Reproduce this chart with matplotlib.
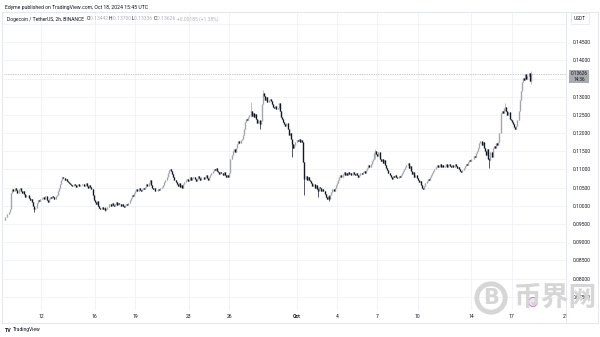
import numpy as np
import pandas as pd
import matplotlib
matplotlib.use("Agg")
import matplotlib.pyplot as plt
import matplotlib.dates as mdates
from matplotlib.patches import Ellipse

plt.rcParams['font.family'] = ['Roboto', 'DejaVu Sans']

# DOGE/USDT 2h closes, Binance, one row per day
first_open = 0.0960
closes = [
    0.0962, 0.0970, 0.0968, 0.0978, 0.0984, 0.0990, 0.1035, 0.1046, 0.1040,  # Sep 9 (from 06:00)
    0.1040, 0.1048, 0.1043, 0.1035, 0.1045, 0.1050, 0.1042, 0.1036, 0.1040, 0.1032, 0.1025, 0.1030,  # Sep 10
    0.1030, 0.1022, 0.1015, 0.1020, 0.1010, 0.1000, 0.0990, 0.0995, 0.1008, 0.1015, 0.1012, 0.1018,  # Sep 11
    0.1018, 0.1022, 0.1025, 0.1020, 0.1027, 0.1015, 0.1010, 0.1018, 0.1025, 0.1022, 0.1028, 0.1024,  # Sep 12
    0.1020, 0.1026, 0.1030, 0.1040, 0.1048, 0.1060, 0.1072, 0.1080, 0.1076, 0.1070, 0.1074, 0.1068,  # Sep 13
    0.1066, 0.1062, 0.1060, 0.1058, 0.1055, 0.1060, 0.1057, 0.1052, 0.1056, 0.1060, 0.1055, 0.1058,  # Sep 14
    0.1056, 0.1060, 0.1054, 0.1058, 0.1062, 0.1055, 0.1050, 0.1058, 0.1052, 0.1045, 0.1030, 0.1015,  # Sep 15
    0.1010, 0.1005, 0.1012, 0.1000, 0.0995, 0.0992, 0.0998, 0.0990, 0.0994, 0.0988, 0.0992, 0.0996,  # Sep 16
    0.0998, 0.1004, 0.1000, 0.1008, 0.1003, 0.0999, 0.1006, 0.1010, 0.1002, 0.1008, 0.1004, 0.1000,  # Sep 17
    0.1004, 0.1000, 0.0998, 0.1003, 0.1006, 0.1001, 0.1008, 0.1015, 0.1022, 0.1030, 0.1026, 0.1036,  # Sep 18
    0.1040, 0.1046, 0.1042, 0.1048, 0.1044, 0.1040, 0.1045, 0.1050, 0.1046, 0.1052, 0.1060, 0.1055,  # Sep 19
    0.1062, 0.1070, 0.1058, 0.1050, 0.1045, 0.1048, 0.1042, 0.1040, 0.1046, 0.1044, 0.1050, 0.1048,  # Sep 20
    0.1052, 0.1058, 0.1065, 0.1072, 0.1080, 0.1090, 0.1098, 0.1102, 0.1096, 0.1088, 0.1080, 0.1072,  # Sep 21
    0.1065, 0.1060, 0.1055, 0.1062, 0.1052, 0.1058, 0.1050, 0.1060, 0.1066, 0.1070, 0.1074, 0.1068,  # Sep 22
    0.1072, 0.1078, 0.1070, 0.1076, 0.1080, 0.1074, 0.1068, 0.1075, 0.1082, 0.1076, 0.1072, 0.1078,  # Sep 23
    0.1080, 0.1074, 0.1078, 0.1084, 0.1076, 0.1072, 0.1080, 0.1086, 0.1090, 0.1095, 0.1102, 0.1098,  # Sep 24
    0.1104, 0.1096, 0.1092, 0.1088, 0.1094, 0.1090, 0.1086, 0.1092, 0.1085, 0.1080, 0.1084, 0.1078,  # Sep 25
    0.1090, 0.1130, 0.1140, 0.1150, 0.1155, 0.1148, 0.1160, 0.1170, 0.1178, 0.1172, 0.1180, 0.1185,  # Sep 26
    0.1195, 0.1210, 0.1230, 0.1240, 0.1235, 0.1245, 0.1250, 0.1262, 0.1248, 0.1255, 0.1245, 0.1252,  # Sep 27
    0.1240, 0.1228, 0.1235, 0.1225, 0.1232, 0.1280, 0.1310, 0.1302, 0.1290, 0.1298, 0.1285, 0.1292,  # Sep 28
    0.1295, 0.1288, 0.1280, 0.1272, 0.1268, 0.1275, 0.1265, 0.1270, 0.1282, 0.1260, 0.1245, 0.1238,  # Sep 29
    0.1230, 0.1225, 0.1220, 0.1228, 0.1210, 0.1195, 0.1200, 0.1185, 0.1170, 0.1160, 0.1168, 0.1175,  # Sep 30
    0.1180, 0.1178, 0.1185, 0.1176, 0.1180, 0.1175, 0.1120, 0.1075, 0.1082, 0.1070, 0.1078, 0.1072,  # Oct 1
    0.1068, 0.1062, 0.1055, 0.1060, 0.1050, 0.1058, 0.1045, 0.1040, 0.1052, 0.1048, 0.1042, 0.1046,  # Oct 2
    0.1040, 0.1032, 0.1025, 0.1020, 0.1028, 0.1018, 0.1030, 0.1038, 0.1045, 0.1040, 0.1050, 0.1058,  # Oct 3
    0.1062, 0.1070, 0.1078, 0.1085, 0.1080, 0.1088, 0.1092, 0.1086, 0.1090, 0.1084, 0.1092, 0.1088,  # Oct 4
    0.1090, 0.1085, 0.1092, 0.1088, 0.1084, 0.1090, 0.1086, 0.1080, 0.1085, 0.1090, 0.1087, 0.1092,  # Oct 5
    0.1095, 0.1090, 0.1098, 0.1105, 0.1112, 0.1108, 0.1115, 0.1122, 0.1130, 0.1145, 0.1150, 0.1142,  # Oct 6
    0.1138, 0.1148, 0.1130, 0.1122, 0.1128, 0.1118, 0.1125, 0.1112, 0.1105, 0.1098, 0.1090, 0.1085,  # Oct 7
    0.1080, 0.1075, 0.1082, 0.1078, 0.1085, 0.1080, 0.1076, 0.1083, 0.1079, 0.1086, 0.1090, 0.1095,  # Oct 8
    0.1100, 0.1108, 0.1112, 0.1118, 0.1105, 0.1110, 0.1095, 0.1088, 0.1092, 0.1080, 0.1085, 0.1076,  # Oct 9
    0.1072, 0.1065, 0.1068, 0.1058, 0.1050, 0.1046, 0.1055, 0.1062, 0.1068, 0.1075, 0.1072, 0.1080,  # Oct 10
    0.1084, 0.1090, 0.1096, 0.1102, 0.1108, 0.1112, 0.1106, 0.1110, 0.1115, 0.1108, 0.1112, 0.1106,  # Oct 11
    0.1110, 0.1114, 0.1108, 0.1112, 0.1116, 0.1110, 0.1106, 0.1112, 0.1108, 0.1114, 0.1110, 0.1105,  # Oct 12
    0.1108, 0.1102, 0.1096, 0.1092, 0.1098, 0.1105, 0.1110, 0.1115, 0.1112, 0.1120, 0.1125, 0.1122,  # Oct 13
    0.1130, 0.1128, 0.1138, 0.1135, 0.1145, 0.1150, 0.1160, 0.1172, 0.1178, 0.1168, 0.1175, 0.1160,  # Oct 14
    0.1150, 0.1140, 0.1155, 0.1130, 0.1125, 0.1148, 0.1135, 0.1158, 0.1165, 0.1160, 0.1172, 0.1168,  # Oct 15
    0.1175, 0.1200, 0.1255, 0.1262, 0.1255, 0.1268, 0.1272, 0.1260, 0.1250, 0.1258, 0.1240, 0.1235,  # Oct 16
    0.1230, 0.1225, 0.1218, 0.1212, 0.1220, 0.1235, 0.1260, 0.1290, 0.1315, 0.1340, 0.1352, 0.1345,  # Oct 17
    0.1362, 0.1350, 0.1358, 0.1366, 0.13441, 0.13626,  # Oct 18
]

# candles whose wicks reach past the body: (open time, high, low)
wicks = [
    ("2024-09-11 12:00", 0.0998, 0.0983),
    ("2024-09-16 18:00", 0.0997, 0.0985),
    ("2024-09-27 14:00", 0.1285, 0.1245),
    ("2024-09-28 06:00", 0.1236, 0.1210),
    ("2024-09-28 12:00", 0.1318, 0.1280),
    ("2024-09-30 16:00", 0.1172, 0.1135),
    ("2024-10-01 14:00", 0.1120, 0.1030),
    ("2024-10-02 14:00", 0.1048, 0.1023),
    ("2024-10-03 10:00", 0.1030, 0.1012),
    ("2024-10-06 20:00", 0.1155, 0.1128),
    ("2024-10-15 08:00", 0.1132, 0.1105),
    ("2024-10-16 12:00", 0.1282, 0.1262),
    ("2024-10-18 10:00", 0.13700, 0.13336),
]

tick_dates = ["2024-09-12", "2024-09-16", "2024-09-19", "2024-09-23", "2024-09-26", "2024-10-01",
              "2024-10-04", "2024-10-07", "2024-10-10", "2024-10-14", "2024-10-17", "2024-10-21"]
tick_labels = ["12", "16", "19", "23", "26", "Oct", "4", "7", "10", "14", "17", "21"]
price_ticks = [0.075, 0.080, 0.085, 0.090, 0.095, 0.100, 0.105, 0.110, 0.115, 0.120, 0.125, 0.130, 0.140, 0.145]

times = pd.date_range("2024-09-09 06:00", periods=len(closes), freq="2h")
c = np.array(closes)
o = np.array([first_open] + closes[:-1])
hi = np.maximum(o, c)
lo = np.minimum(o, c)
for t, h, l in wicks:
    i = times.get_loc(pd.Timestamp(t))
    hi[i], lo[i] = h, l
x = mdates.date2num(times)
up = c >= o

W, H = 600, 337
fig = plt.figure(figsize=(6, 3.37), dpi=100)
fig.patch.set_facecolor("white")


def fx(px):
    return px / W


def fy(py):
    return 1 - py / H


ax = fig.add_axes([fx(4), fy(310), fx(566) - fx(4), fy(12) - fy(310)])
ax.set_xlim(mdates.date2num(pd.Timestamp("2024-09-09 05:58")), mdates.date2num(pd.Timestamp("2024-10-21 00:45")))
ax.set_ylim(0.07134, 0.15329)

grid_col = "#eff1f5"
for p in np.arange(0.075, 0.1501, 0.005):
    ax.axhline(p, color=grid_col, lw=0.6, zorder=0)
for d in tick_dates:
    ax.axvline(mdates.date2num(pd.Timestamp(d)), color=grid_col, lw=0.6, zorder=0)

up_col, down_col = "#a4a7ae", "#131722"
ax.vlines(x[up], lo[up], hi[up], color=up_col, lw=0.5, zorder=2)
ax.vlines(x[~up], lo[~up], hi[~up], color=down_col, lw=0.5, zorder=2)
ax.vlines(x[up], o[up], c[up], color=up_col, lw=1.0, zorder=3)
ax.vlines(x[~up], c[~up], o[~up], color=down_col, lw=1.0, zorder=3)

# last price line
ax.axhline(closes[-1], color="#9598a1", lw=0.5, ls=(0, (1, 1.5)), zorder=1)

ax.set_xticks(mdates.date2num(pd.to_datetime(tick_dates)))
ax.set_xticklabels(tick_labels)
for lab in ax.get_xticklabels():
    if lab.get_text() == "Oct":
        lab.set_fontweight("bold")
ax.yaxis.tick_right()
ax.set_yticks(price_ticks)
ax.set_yticklabels([f"{p:.5f}" for p in price_ticks])
ax.tick_params(axis="both", length=0, labelsize=3.6, colors="#131722")
ax.tick_params(axis="x", pad=3)
ax.tick_params(axis="y", pad=5)
for s in ax.spines.values():
    s.set_visible(False)
ax.set_facecolor("white")

# panel borders
border = "#e0e3eb"
fig.add_artist(plt.Line2D([fx(2), fx(598)], [fy(12), fy(12)], color=border, lw=0.6))
fig.add_artist(plt.Line2D([fx(2), fx(598)], [fy(323), fy(323)], color=border, lw=0.6))
fig.add_artist(plt.Line2D([fx(2), fx(2)], [fy(12), fy(323)], color=border, lw=0.6))
fig.add_artist(plt.Line2D([fx(598), fx(598)], [fy(12), fy(323)], color=border, lw=0.6))
fig.add_artist(plt.Line2D([fx(566), fx(566)], [fy(12), fy(323)], color=border, lw=0.6))

# header
fig.text(fx(5), fy(7), "Edyme published on TradingView.com, Oct 18, 2024 15:45 UTC",
         fontsize=3.7, color="#131722", va="center", ha="left")
legend_parts = [("Dogecoin / TetherUS, 2h, BINANCE  ", "#131722"),
                ("O", "#131722"), ("0.13442 ", "#b0b3ba"),
                ("H", "#131722"), ("0.13700 ", "#b0b3ba"),
                ("L", "#131722"), ("0.13336 ", "#b0b3ba"),
                ("C", "#131722"), ("0.13626 ", "#b0b3ba"),
                ("+0.00185 (+1.38%)", "#b0b3ba")]
xpos = fx(7)
renderer = fig.canvas.get_renderer()
for txt, col in legend_parts:
    t = fig.text(xpos, fy(19), txt, fontsize=3.6, color=col, va="center", ha="left")
    bb = t.get_window_extent(renderer=renderer)
    xpos += bb.width / W

# unit box and last price badge on the price scale
fig.text(fx(580), fy(18.5), "USDT", fontsize=3.4, color="#131722", ha="center", va="center",
         bbox=dict(boxstyle="square,pad=0.6", fc="white", ec="#e0e3eb", lw=0.5))
fig.text(fx(579), fy(76.5), f"{closes[-1]:.5f}\n14:36", fontsize=3.4, color="#131722",
         ha="center", va="center", linespacing=1.05,
         bbox=dict(boxstyle="square,pad=0.35", fc="#a9abb1", ec="none"))

# footer logo
fig.text(fx(5), fy(330), "TV", fontsize=3.8, fontweight="bold", color="#131722", va="center")
fig.text(fx(13), fy(330), "TradingView", fontsize=3.6, color="#131722", va="center")

# watermark
fig.text(fx(491), fy(298), "B", fontsize=15, color="#d6d6d6", ha="center", va="center",
         fontweight="bold", family=["DejaVu Sans"],
         bbox=dict(boxstyle="circle,pad=0.2", fc="none", ec="#d6d6d6", lw=3.5))
fig.text(fx(555), fy(298), "币界网", fontsize=20, color="#d6d6d6", ha="center", va="center",
         fontweight="bold", family=["Noto Sans CJK SC", "DejaVu Sans"])
fig.add_artist(Ellipse((fx(533), fy(302)), 9 / W, 9 / H, transform=fig.transFigure,
                       fc="#f3e3f6", ec="#b36cc4", lw=0.6))

fig.savefig("out.png", dpi=100, facecolor="white")
